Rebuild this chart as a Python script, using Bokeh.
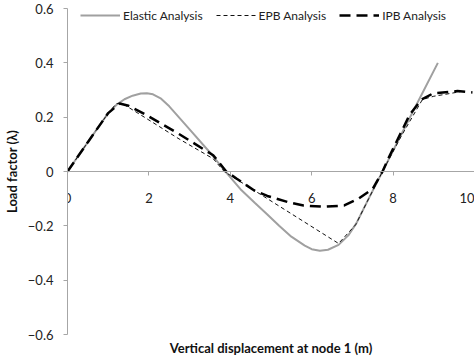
from bokeh.plotting import figure
from bokeh.models import LinearAxis, FixedTicker, Legend, LegendItem
from bokeh.embed import file_html
from bokeh.resources import INLINE

# Elastic Analysis
elastic_x = [0, 0.5, 1.0, 1.2, 1.4, 1.6, 1.8, 1.95, 2.1, 2.3, 2.5, 3.0, 3.5, 3.85, 4.25, 4.6, 4.91, 5.2, 5.5, 5.83, 6.0, 6.2, 6.4, 6.66, 6.9, 7.1, 7.4, 7.74, 8.4, 9.1]
elastic_y = [0, 0.108, 0.215, 0.245, 0.266, 0.279, 0.287, 0.288, 0.284, 0.268, 0.24, 0.155, 0.07, 0.005, -0.065, -0.115, -0.158, -0.2, -0.24, -0.273, -0.286, -0.292, -0.288, -0.27, -0.235, -0.19, -0.1, 0.0, 0.195, 0.40]

# EPB Analysis
epb_x = [0, 0.5, 1.0, 1.2, 1.35, 1.91, 2.74, 3.58, 3.85, 4.91, 6.66, 7.08, 7.4, 7.74, 8.2, 8.72, 9.0, 9.24, 9.66]
epb_y = [0, 0.108, 0.215, 0.25, 0.25, 0.198, 0.12, 0.047, 0.0, -0.1, -0.265, -0.196, -0.1, 0.0, 0.13, 0.265, 0.277, 0.283, 0.294]

# IPB Analysis
ipb_x = [0, 0.5, 1.0, 1.28, 1.5, 1.91, 2.74, 3.58, 3.9, 4.16, 4.58, 4.91, 5.4, 5.8, 6.3, 6.8, 7.15, 7.5, 7.74, 7.9, 8.41, 8.7, 8.99, 9.58, 9.95]
ipb_y = [0, 0.108, 0.215, 0.25, 0.242, 0.21, 0.138, 0.06, 0.0, -0.027, -0.069, -0.09, -0.112, -0.125, -0.13, -0.125, -0.1, -0.064, 0.0, 0.053, 0.21, 0.265, 0.288, 0.296, 0.291]

x_ticks = [0, 2, 4, 6, 8, 10]
y_ticks = [-0.6, -0.4, -0.2, 0, 0.2, 0.4, 0.6]

FONT = "Lato"
AXIS_GRAY = "#a6a6a6"

p = figure(width=474, height=358, output_backend="svg", toolbar_location=None,
           x_range=(0, 10), y_range=(-0.6, 0.6),
           min_border_left=67, min_border_right=0, min_border_top=8, min_border_bottom=20)
p.outline_line_color = None
p.xgrid.visible = False
p.ygrid.visible = False

# x axis crossing at y = 0
xa = p.xaxis[0]
xa.fixed_location = 0
xa.ticker = FixedTicker(ticks=x_ticks)
xa.axis_line_color = AXIS_GRAY
xa.major_tick_line_color = AXIS_GRAY
xa.major_tick_in = 0
xa.major_tick_out = 4
xa.minor_tick_line_color = None
xa.major_label_standoff = 17
xa.major_label_text_font = FONT
xa.major_label_text_font_size = "13px"
xa.major_label_text_color = "#222222"

ya = p.yaxis[0]
ya.ticker = FixedTicker(ticks=y_ticks)
ya.major_label_overrides = {0: "0"}
ya.axis_line_color = AXIS_GRAY
ya.major_tick_line_color = AXIS_GRAY
ya.major_tick_in = 0
ya.major_tick_out = 4
ya.minor_tick_line_color = None
ya.major_label_standoff = 10
ya.major_label_text_font = FONT
ya.major_label_text_font_size = "13px"
ya.major_label_text_color = "#222222"
ya.axis_label = "Load factor (λ)"
ya.axis_label_text_font = FONT
ya.axis_label_text_font_style = "bold"
ya.axis_label_text_font_size = "13px"
ya.axis_label_text_color = "#111111"
ya.axis_label_standoff = 5

# bottom axis only for the title
xb = LinearAxis(ticker=FixedTicker(ticks=[]), axis_label="Vertical displacement at node 1 (m)",
                axis_line_color=None, major_tick_line_color=None, minor_tick_line_color=None,
                axis_label_text_font=FONT, axis_label_text_font_style="bold",
                axis_label_text_font_size="13px", axis_label_text_color="#111111",
                axis_label_standoff=5)
p.add_layout(xb, "below")

r1 = p.line(elastic_x, elastic_y, line_color="#a0a0a0", line_width=2)
r2 = p.line(epb_x, epb_y, line_color="#111111", line_width=1, line_dash="4 3")
r3 = p.line(ipb_x, ipb_y, line_color="#000000", line_width=2.5, line_dash="11 6")

legend = Legend(items=[LegendItem(label="Elastic Analysis", renderers=[r1]),
                       LegendItem(label="EPB Analysis", renderers=[r2]),
                       LegendItem(label="IPB Analysis", renderers=[r3])],
                orientation="horizontal", location="top_left",
                margin=0, padding=0, spacing=13, glyph_width=40, label_standoff=3,
                label_text_font=FONT, label_text_font_size="12px", label_text_color="#222222",
                background_fill_alpha=0, border_line_alpha=0)
p.add_layout(legend, "center")
legend.location = (13, 309)

open("out.html", "w").write(file_html(p, INLINE))
